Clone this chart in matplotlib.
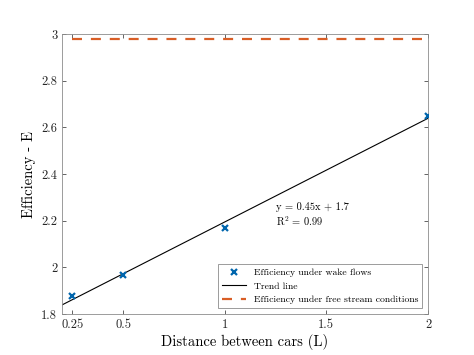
import numpy as np
import matplotlib
matplotlib.use("Agg")
import matplotlib.pyplot as plt

plt.rcParams['font.family'] = 'serif'
plt.rcParams['font.serif'] = ['cmr10']
plt.rcParams['mathtext.fontset'] = 'cm'
plt.rcParams['axes.formatter.use_mathtext'] = True

# data
distance = [0.25, 0.5, 1, 2]
efficiency_wake = [1.877, 1.967, 2.17, 2.647]
trend_x = [0.2, 2]
trend_y = [1.839, 2.639]
free_x = [0.25, 2]
free_y = [2.98, 2.98]
xticks = [0.25, 0.5, 1, 1.5, 2]
xtick_labels = ['0.25', '0.5', '1', '1.5', '2']
yticks = [1.8, 2.0, 2.2, 2.4, 2.6, 2.8, 3.0]
ytick_labels = ['1.8', '2', '2.2', '2.4', '2.6', '2.8', '3']

blue = (0, 0.40, 0.68)
orange = (0.85, 0.37, 0.15)
axcol = (0.15, 0.15, 0.15)

fig = plt.figure(figsize=(4.74, 3.55), dpi=100)
ax = fig.add_axes([0.131, 0.1155, 0.772, 0.7885])

ax.plot(distance, efficiency_wake, linestyle='none', marker='x', color=blue,
        markersize=5, markeredgewidth=1.6, label='Efficiency under wake flows', zorder=3)
ax.plot(trend_x, trend_y, color='black', linewidth=0.8, label='Trend line')
ax.plot(free_x, free_y, color=orange, linewidth=1.6, dashes=(4.5, 4),
        label='Efficiency under free stream conditions')

ax.text(1.25, 2.259, 'y = 0.45x + 1.7', fontsize=7.5, va='center', ha='left')
ax.text(1.25, 2.199, r'R$^2$ = 0.99', fontsize=7.5, va='center', ha='left')

ax.set_xlim(0.2, 2)
ax.set_ylim(1.8, 3)
ax.set_xticks(xticks)
ax.set_xticklabels(xtick_labels)
ax.set_yticks(yticks)
ax.set_yticklabels(ytick_labels)
ax.tick_params(direction='in', top=True, right=True, labelsize=9,
               color=axcol, labelcolor=axcol, length=3, width=0.5)
for s in ax.spines.values():
    s.set_color((0.55, 0.55, 0.55))
    s.set_linewidth(0.6)

ax.set_xlabel('Distance between cars (L)', fontsize=10.5, labelpad=2)
ax.set_ylabel('Efficiency - E', fontsize=10.5, labelpad=4)

leg = ax.legend(loc='lower right', fontsize=7, fancybox=False, framealpha=1,
                edgecolor=(0.55, 0.55, 0.55), handlelength=2.5, borderaxespad=0.6,
                labelspacing=0.5)
leg.get_frame().set_linewidth(0.6)

fig.savefig('out.png', dpi=100)
